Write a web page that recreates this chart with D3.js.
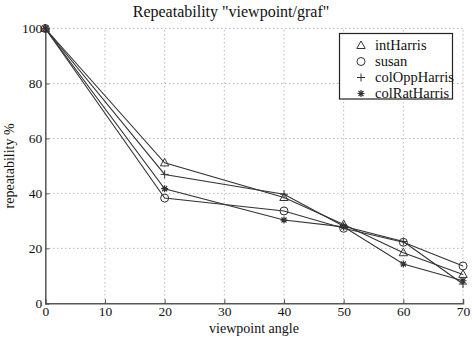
<!DOCTYPE html>
<html><head><meta charset="utf-8">
<script src="https://cdn.jsdelivr.net/npm/d3@7"></script>
<style>body{margin:0;background:#fff}svg{display:block}text{font-family:"Liberation Serif","DejaVu Serif",serif;fill:#111}</style>
</head><body>
<script>
const angles = [0, 20, 40, 50, 60, 70];
const intHarris = [100, 51.1, 38.5, 28.7, 18.4, 10.5];
const susan = [100, 38.3, 33.6, 27.3, 22.2, 13.6];
const colOppHarris = [100, 46.9, 39.7, 28.0, 22.5, 7.0];
const colRatHarris = [100, 41.7, 30.3, 27.8, 14.3, 8.2];
const seriesNames = ["intHarris", "susan", "colOppHarris", "colRatHarris"];
const seriesSymbols = ["triangle", "circle", "plus", "star"];
const xTicks = [0, 10, 20, 30, 40, 50, 60, 70];
const yTicks = [0, 20, 40, 60, 80, 100];

const W = 474, H = 338;
const svg = d3.select("body").append("svg").attr("width", W).attr("height", H);
const x = d3.scaleLinear().domain([0, 70]).range([45.3, 463]);
const y = d3.scaleLinear().domain([0, 100]).range([303.3, 28.5]);

// grid
const g = svg.append("g");
g.selectAll(".vg").data(xTicks.slice(1)).enter().append("line")
  .attr("x1", d => x(d)).attr("x2", d => x(d)).attr("y1", y(0)).attr("y2", y(100))
  .attr("stroke", "#999").attr("stroke-width", 1).attr("stroke-dasharray", "1,3");
g.selectAll(".hg").data(yTicks.slice(1)).enter().append("line")
  .attr("x1", x(0)).attr("x2", x(70)).attr("y1", d => y(d)).attr("y2", d => y(d))
  .attr("stroke", "#999").attr("stroke-width", 1).attr("stroke-dasharray", "1,3");

// axes
const xa = svg.append("g").attr("transform", `translate(0,${y(0)})`)
  .call(d3.axisBottom(x).tickValues(xTicks).tickSize(-4).tickPadding(3).tickFormat(d3.format("d")));
const ya = svg.append("g").attr("transform", `translate(${x(0)},0)`)
  .call(d3.axisLeft(y).tickValues(yTicks).tickSize(-4).tickPadding(3).tickFormat(d3.format("d")));
[xa, ya].forEach(a => {
  a.select(".domain").attr("stroke", "#555").attr("stroke-width", 1.5);
  a.selectAll(".tick line").attr("stroke", "#555");
  a.selectAll("text").attr("font-size", 13.5).attr("font-family", "Liberation Serif").attr("fill", "#111");
});

// lines and markers
const data = [intHarris, susan, colOppHarris, colRatHarris];
const line = d3.line().x((d, i) => x(angles[i])).y(d => y(d));
function drawSym(sel, type, cx, cy) {
  const gg = sel.append("g").attr("transform", `translate(${cx},${cy})`);
  if (type === "triangle") {
    gg.append("path").attr("d", "M0,-4.5L4.2,3L-4.2,3Z").attr("fill", "none").attr("stroke", "#333").attr("stroke-width", 1);
  } else if (type === "circle") {
    gg.append("circle").attr("r", 4).attr("fill", "none").attr("stroke", "#333").attr("stroke-width", 1);
  } else if (type === "plus") {
    gg.append("path").attr("d", "M-4,0H4M0,-4V4").attr("stroke", "#333").attr("stroke-width", 1);
  } else {
    gg.append("path").attr("d", "M-3.5,0H3.5M0,-3.5V3.5M-2.5,-2.5L2.5,2.5M-2.5,2.5L2.5,-2.5").attr("stroke", "#333").attr("stroke-width", 1.2);
  }
}
data.forEach((vals, si) => {
  svg.append("path").datum(vals).attr("d", line).attr("fill", "none").attr("stroke", "#333").attr("stroke-width", 1.1);
  vals.forEach((v, i) => drawSym(svg, seriesSymbols[si], x(angles[i]), y(v)));
});

// title & labels
svg.append("text").attr("x", 231).attr("y", 17).attr("text-anchor", "middle").attr("font-size", 16)
  .text('Repeatability "viewpoint/graf"');
svg.append("text").attr("x", 254).attr("y", 333).attr("text-anchor", "middle").attr("font-size", 14)
  .text("viewpoint angle");
svg.append("text").attr("transform", `translate(14,${y(50)}) rotate(-90)`).attr("text-anchor", "middle").attr("font-size", 14)
  .text("repeatability %");

// legend
const lg = svg.append("g");
lg.append("rect").attr("x", 339.5).attr("y", 33.5).attr("width", 113).attr("height", 65.5)
  .attr("fill", "#fff").attr("stroke", "#222").attr("stroke-width", 1.2);
seriesNames.forEach((n, i) => {
  const yy = 45.5 + i * 16;
  drawSym(lg, seriesSymbols[i], 361, yy);
  lg.append("text").attr("x", 375).attr("y", yy + 4.5).attr("font-size", 14.5).text(n);
});
</script>
</body></html>
